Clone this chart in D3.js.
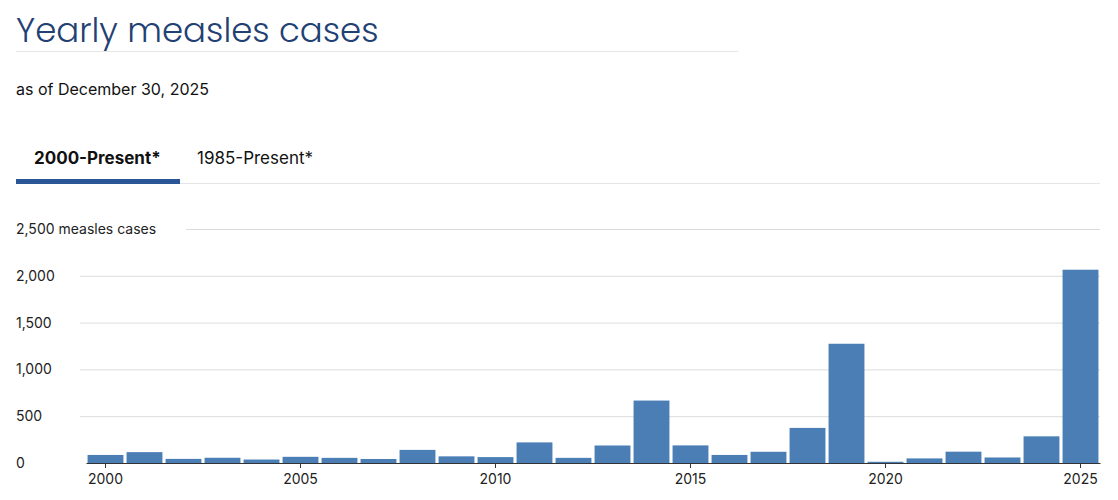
<!DOCTYPE html>
<html><head><meta charset="utf-8">
<script src="https://cdn.jsdelivr.net/npm/d3@7"></script>
<style>
body{margin:0;background:#fff;font-family:Lato,"Open Sans",sans-serif;}
</style></head>
<body>
<svg id="chart" width="1118" height="500"></svg>
<script>
var years = d3.range(2000, 2026);
var cases = [86, 116, 44, 56, 37, 66, 55, 43, 140, 71, 63, 220, 55, 187, 667, 188, 86, 120, 375, 1274, 13, 49, 121, 59, 285, 2065];
var yTicks = [0, 500, 1000, 1500, 2000, 2500];
var xTicks = [2000, 2005, 2010, 2015, 2020, 2025];
var tabs = ['2000-Present*', '1985-Present*'];

var svg = d3.select('#chart');
var font = 'Inter, Lato, sans-serif';

svg.append('text').attr('x', 16).attr('y', 42).text('Yearly measles cases')
    .style('font-family', 'Poppins, Inter, sans-serif').style('font-size', '34px')
    .style('font-weight', 300).attr('fill', '#1f4173');
svg.append('line').attr('x1', 16).attr('x2', 738).attr('y1', 51.5).attr('y2', 51.5).attr('stroke', '#e6e6e6');
svg.append('text').attr('x', 16).attr('y', 95).text('as of December 30, 2025')
    .style('font-family', font).style('font-size', '16px').attr('fill', '#111');

svg.append('line').attr('x1', 16).attr('x2', 1100).attr('y1', 183.5).attr('y2', 183.5).attr('stroke', '#e6e6e6');
svg.append('rect').attr('x', 16).attr('y', 179).attr('width', 164).attr('height', 5).attr('fill', '#2a5596');
svg.selectAll('.tab').data(tabs).enter().append('text')
    .attr('x', function (d, i) { return i ? 197 : 34; }).attr('y', 164)
    .text(function (d) { return d; })
    .style('font-family', font).style('font-size', '17px')
    .style('font-weight', function (d, i) { return i ? 400 : 700; }).attr('fill', '#111');

var x = d3.scaleBand().domain(years).range([86, 1100]).paddingInner(0.08).paddingOuter(0.04);
var y = d3.scaleLinear().domain([0, 2500]).range([463, 229]);

svg.selectAll('.grid').data(yTicks.slice(1)).enter().append('line')
    .attr('x1', function (d) { return d === 2500 ? 186 : 80; }).attr('x2', 1100)
    .attr('y1', function (d) { return y(d) + 0.5; }).attr('y2', function (d) { return y(d) + 0.5; })
    .attr('stroke', '#dcdcdc');
svg.selectAll('.ylab').data(yTicks).enter().append('text')
    .attr('x', 16).attr('y', function (d) { return y(d) + 5; })
    .text(function (d) { return d3.format(',')(d) + (d === 2500 ? ' measles cases' : ''); })
    .style('font-family', font).style('font-size', '14px').attr('fill', '#222');

svg.selectAll('.bar').data(years).enter().append('rect')
    .attr('x', function (d) { return x(d); }).attr('width', x.bandwidth())
    .attr('y', function (d, i) { return y(cases[i]); })
    .attr('height', function (d, i) { return 463 - y(cases[i]); })
    .attr('fill', '#4a7eb5');

var ax = svg.append('g').attr('transform', 'translate(0,463)')
    .call(d3.axisBottom(x).tickValues(xTicks).tickSize(5).tickSizeOuter(0));
ax.select('.domain').attr('stroke', '#333');
ax.selectAll('.tick line').attr('stroke', '#333');
ax.selectAll('text').style('font-family', font).style('font-size', '14px').attr('fill', '#222').attr('dy', '0.9em');
</script>
</body></html>
